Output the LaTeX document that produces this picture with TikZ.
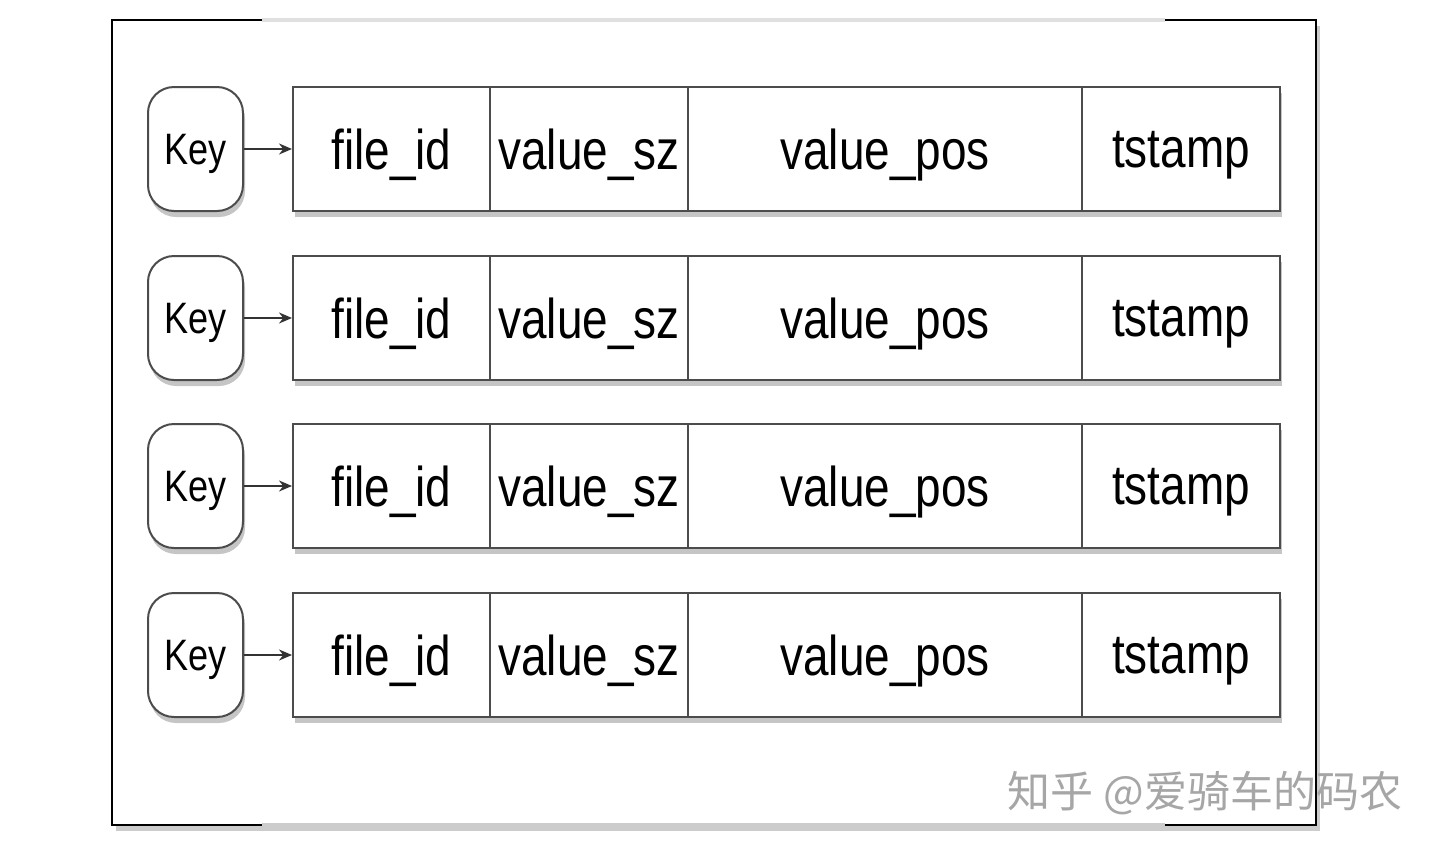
\documentclass[tikz,border=0pt]{standalone}
\usepackage{fontspec}
\setmainfont[FakeStretch=0.82]{Liberation Sans}
\newfontfamily\cjkfont{Noto Sans CJK SC}
\usetikzlibrary{shadows,arrows.meta}
\tikzset{
  field/.style={draw=black!70, fill=white, line width=1pt, minimum height=62pt,
    inner sep=0pt, text depth=0pt, font=\fontsize{28}{30}\selectfont, text=black,
    drop shadow={shadow xshift=1pt, shadow yshift=-3pt, opacity=0.45}},
  keybox/.style={field, rounded corners=13pt, minimum width=47.5pt,
    font=\fontsize{22}{24}\selectfont},
  keyarrow/.style={draw=black!80, line width=0.9pt, -{Stealth[length=6.5pt,width=5.5pt]}}
}

\begin{document}
\begin{tikzpicture}[x=0.5pt,y=-0.5pt]
	\useasboundingbox (0,0) rectangle (1440,852);
	% outer frame
	\draw[line width=1.4pt, fill=white, drop shadow={shadow xshift=2pt, shadow yshift=-3pt, opacity=0.4}] (112,20) rectangle (1316,825);
	\draw[white!88!black, line width=1.6pt] (262,20) -- (1165,20);
	\draw[white!80!black, line width=1.6pt] (262,825) -- (1165,825);
	
	% records
	\foreach \r/\y in {1/149,2/318,3/486,4/655} {
		\node[keybox] (key\r) at (195.5,\y) {Key};
		\node[field, minimum width=98.5pt] (fid\r) at (391.5,\y) {file\_id};
		\node[field, minimum width=99pt] (vsz\r) at (589,\y) {value\_sz};
		\node[field, minimum width=197pt] (vpos\r) at (885,\y) {value\_pos};
		\node[field, minimum width=99pt] (ts\r) at (1181,\y) {tstamp};
		\draw[keyarrow] (key\r) -- (fid\r);
	}
	
	\node[text=black!35, font=\cjkfont\fontsize{21.5}{24}\selectfont] (mark) at (1205,793) {知乎 @爱骑车的码农};
\end{tikzpicture}
\end{document}
